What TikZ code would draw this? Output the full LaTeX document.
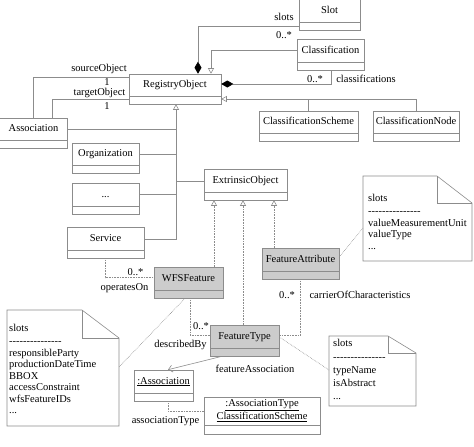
\documentclass[tikz,border=0pt]{standalone}
\usepackage{fontspec}
\setmainfont{Liberation Serif}
\usetikzlibrary{arrows.meta}
\usetikzlibrary{calc}

\newcommand{\slotrule}{\foreach \k in {1,...,15}{-{}}}

\begin{document}
\begin{tikzpicture}[x=1pt, y=-1pt, font=\fontsize{10.5}{11.5}\selectfont,
	line/.style={draw=black!45, line width=0.6pt},
	dep/.style={line, densely dotted},
	gen/.style={line, -{Triangle[open, width=6pt, length=5.5pt]}},
	comp/.style={line, {Diamond[color=black, width=7pt, length=12pt]}-},
	cls/.style={draw=black!45, line width=0.6pt, fill=white, minimum height=30pt, inner sep=0pt, text height=7pt, text depth=10pt,
		path picture={\draw[black!45, line width=0.6pt] ([yshift=8pt]path picture bounding box.south west) -- ([yshift=8pt]path picture bounding box.south east);}},
	feat/.style={cls, fill=black!20},
	lbl/.style={inner sep=0pt},
	notetxt/.style={inner sep=0pt, anchor=north west, align=left}]
		\useasboundingbox (0,0) rectangle (474,447);

		% notes
		\draw[line, fill=white] (7,310) -- (82,310) -- (119,338) -- (119,426) -- (7,426) -- cycle;
		\draw[line] (82,310) |- (119,338);
		\node[notetxt] (n1) at (9,323.8) {slots\\[2pt]\slotrule\\responsibleParty\\productionDateTime\\BBOX\\accessConstraint\\wfsFeatureIDs\\...};
		\coordinate (n1c) at (119,367);

		\draw[line, fill=white] (363,176) -- (437,176) -- (472,203) -- (472,261) -- (363,261) -- cycle;
		\draw[line] (437,176) |- (472,203);
		\node[notetxt] (n2) at (368,193.8) {slots\\[2pt]\slotrule\\valueMeasurementUnit\\valueType\\...};
		\coordinate (n2c) at (363,228);

		\draw[line, fill=white] (329,336) -- (388,336) -- (416,353) -- (416,406) -- (329,406) -- cycle;
		\draw[line] (388,336) |- (416,353);
		\node[notetxt, font=\fontsize{10.5}{13}\selectfont] (n3) at (333,339.5) {slots\\[1pt]\slotrule\\typeName\\isAbstract\\...};
		\coordinate (n3c) at (329,370);

		% classes
		\node[cls, minimum width=61pt, minimum height=31pt] (slot) at (329.5,15) {Slot};
		\node[cls, minimum width=67pt, minimum height=31pt] (cls) at (330.5,54.5) {Classification};
		\node[cls, minimum width=92pt] (ro) at (175,89) {RegistryObject};
		\node[cls, minimum width=99pt] (cs) at (308.5,126) {ClassificationScheme};
		\node[cls, minimum width=86pt] (cn) at (416,126) {ClassificationNode};
		\node[cls, minimum width=68pt] (assoc) at (33.5,133) {Association};
		\node[cls, minimum width=67pt] (org) at (105.5,158) {Organization};
		\node[cls, minimum width=67pt, minimum height=31pt] (etc) at (105.5,198.5) {...};
		\node[cls, minimum width=77pt, minimum height=31pt] (svc) at (105.5,242.5) {Service};
		\node[cls, minimum width=83pt, minimum height=31pt] (eo) at (245.5,184.5) {ExtrinsicObject};
		\node[feat, minimum width=69pt, minimum height=31pt] (wfs) at (188.5,282.5) {WFSFeature};
		\node[feat, minimum width=77pt, minimum height=31pt] (fa) at (300.5,263.5) {FeatureAttribute};
		\node[feat, minimum width=69pt, minimum height=31pt] (ft) at (244.5,340.5) {FeatureType};
		\node[cls, minimum width=59pt, minimum height=31pt] (ass2) at (163.5,385.5) {\underline{:Association}};
		\node[cls, minimum width=116pt, minimum height=37pt, align=center, text height=18.5pt, text depth=11pt,
			path picture={\draw[black!45, line width=0.6pt] ([yshift=9pt]path picture bounding box.south west) -- ([yshift=9pt]path picture bounding box.south east);}]
			(at) at (262,415.5) {\underline{:AssociationType}\\\underline{ClassificationScheme}};

		% RegistryObject associations
		\draw[comp] ([xshift=23pt]ro.north) |- ([yshift=-11pt]slot.west);
		\draw[gen] ([yshift=4.5pt]cls.west) -| ([xshift=36pt]ro.north);
		\draw[comp] ([yshift=5pt]ro.east) -| ([xshift=0.5pt]cls.south);
		\draw[gen] (cn.north) |- ([yshift=-10pt]ro.east);
		\draw[line] (cs.north) -- ++(0,-12);
		\draw[line] ([xshift=-0.5pt]assoc.north) |- ([yshift=12pt]ro.west);
		\draw[line] ([xshift=18.5pt]assoc.north) |- ([yshift=-10pt]ro.west);

		% generalization trunk
		\coordinate (trunk) at ([xshift=1pt]ro.south);
		\draw[gen] ([yshift=3.5pt]svc.east) -| (trunk);
		\foreach \n in {assoc, org, etc}
			\draw[line] ([yshift=4pt]\n.east) -- ([yshift=4pt]\n.east -| trunk);
		\draw[line] ([yshift=3.5pt]eo.west) -- ([yshift=3.5pt]eo.west -| trunk);

		\foreach \n/\d in {wfs/25.5, ft/-1.5, fa/-26.5}
			\draw[dep, -{Triangle[open, width=6pt, length=5.5pt]}] ([xshift=\d pt]\n.north) -- ([xshift=\d pt]\n.north |- eo.south);

		% feature associations
		\draw[dep] (svc.south) |- ([yshift=5pt]wfs.west);
		\draw[dep] ([xshift=1.5pt]wfs.south) |- ([yshift=5.5pt]ft.west);
		\draw[dep] (fa.south) |- ([yshift=5.5pt]ft.east);
		\draw[line, -{Straight Barb[length=4pt, width=7pt]}] ([xshift=-22.5pt]ft.south) -- ([xshift=4.5pt]ass2.north);
		\draw[dep] ([xshift=4.5pt]ass2.south) |- ([yshift=4.5pt]at.west);

		% note links
		\draw[dep] ([xshift=-3.5pt]wfs.south) -- (n1c);
		\draw[dep] ([yshift=6.5pt]fa.east) -- (n2c);
		\draw[dep] ([yshift=3.5pt]ft.east) -- (n3c);

		% role names and multiplicities
		\node[lbl] (l-slots) at (284,17) {slots};
		\node[lbl] (m-slots) at (284,35) {0..*};
		\node[lbl] (m-cls) at (315,79) {0..*};
		\node[lbl] (l-cls) at (366,79) {classifications};
		\node[lbl] (l-src) at (99,69) {sourceObject};
		\node[lbl] (m-src) at (107,82) {1};
		\node[lbl] (l-tgt) at (99.5,93) {targetObject};
		\node[lbl] (m-tgt) at (107,106) {1};
		\node[lbl] (m-op) at (135.5,272) {0..*};
		\node[lbl] (l-op) at (124.5,288) {operatesOn};
		\node[lbl] (m-desc) at (201,326) {0..*};
		\node[lbl] (l-desc) at (180.5,345) {describedBy};
		\node[lbl] (m-car) at (287,295) {0..*};
		\node[lbl] (l-car) at (360,295) {carrierOfCharacteristics};
		\node[lbl] (l-fas) at (255,369) {featureAssociation};
		\node[lbl] (l-at) at (165.5,421) {associationType};
	\end{tikzpicture}
\end{document}
